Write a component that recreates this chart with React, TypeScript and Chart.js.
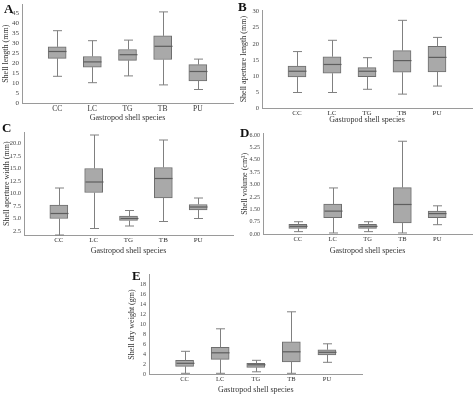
import React, { useEffect, useRef } from 'react';
import { Chart, registerables } from 'chart.js';
Chart.register(...registerables);

const categories = ['CC', 'LC', 'TG', 'TB', 'PU'];
const xTitle = 'Gastropod shell species';

// Panel A: Shell length (mm)
const aMin = [13.6, 10.4, 13.8, 9.3, 7.0];
const aQ1 = [22.6, 18.2, 21.6, 22.0, 11.3];
const aMed = [26.0, 20.8, 24.4, 28.6, 16.0];
const aQ3 = [28.3, 23.5, 27.0, 33.8, 19.4];
const aMax = [36.4, 31.4, 31.7, 45.8, 22.2];
const aTicks = [0, 5, 10, 15, 20, 25, 30, 35, 40, 45];

// Panel B: Shell aperture length (mm)
const bMin = [4.9, 4.9, 5.9, 4.4, 6.9];
const bQ1 = [9.7, 10.9, 9.8, 11.2, 11.3];
const bMed = [11.5, 13.6, 11.5, 14.8, 15.8];
const bQ3 = [13.1, 16.0, 12.6, 17.9, 19.2];
const bMax = [17.6, 21.1, 15.7, 27.3, 22.0];
const bTicks = [0, 5, 10, 15, 20, 25, 30];

// Panel C: Shell aperture width (mm)
const cMin = [1.7, 3.0, 3.5, 4.4, 5.0];
const cQ1 = [5.0, 10.2, 4.6, 9.1, 6.7];
const cMed = [6.0, 12.3, 5.0, 13.0, 7.3];
const cQ3 = [7.7, 15.0, 5.5, 15.2, 7.8];
const cMax = [11.1, 21.7, 6.6, 20.7, 9.1];
const cTicks = [2.5, 5, 7.5, 10, 12.5, 15, 17.5, 20];

// Panel D: Shell volume (cm3)
const dMin = [0.16, 0.08, 0.16, 0.08, 0.58];
const dQ1 = [0.36, 1.0, 0.36, 0.68, 1.0];
const dMed = [0.48, 1.4, 0.48, 1.8, 1.25];
const dQ3 = [0.6, 1.82, 0.6, 2.82, 1.4];
const dMax = [0.76, 2.8, 0.76, 5.62, 1.72];
const dTicks = [0, 0.75, 1.5, 2.25, 3, 3.75, 4.5, 5.25, 6];

// Panel E: Shell dry weight (gm)
const eMin = [0.2, 0.2, 0.5, 0.2, 2.4];
const eQ1 = [1.6, 3.0, 1.4, 2.5, 3.9];
const eMed = [2.2, 4.3, 1.9, 4.5, 4.4];
const eQ3 = [2.8, 5.4, 2.2, 6.5, 4.9];
const eMax = [4.6, 9.1, 2.8, 12.5, 6.1];
const eTicks = [0, 2, 4, 6, 8, 10, 12, 14, 16, 18];

const FONT = "'Liberation Serif', 'Times New Roman', serif";

type PanelDef = {
  letter: string;
  yTitle: string;
  mins: number[]; q1: number[]; med: number[]; q3: number[]; maxs: number[];
  ticks: number[]; yMin: number; yMax: number; decimals: number;
  pos: { left: number; top: number; width: number; height: number };
  area: { L: number; R: number; T: number; B: number };
  yTitleOffset: number; xTitleOffset: number; tickSize: number;
  letterPos: { left: number; top: number };
};

const panels: PanelDef[] = [
  {
    letter: 'A', yTitle: 'Shell length (mm)',
    mins: aMin, q1: aQ1, med: aMed, q3: aQ3, maxs: aMax,
    ticks: aTicks, yMin: 0, yMax: 49.75, decimals: 0,
    pos: { left: 0, top: 0, width: 237, height: 125 },
    area: { L: 22, R: 233, T: 4, B: 103.5 },
    yTitleOffset: 6, xTitleOffset: 7, tickSize: 7,
    letterPos: { left: 4, top: 2 },
  },
  {
    letter: 'B', yTitle: 'Shell aperture length (mm)',
    mins: bMin, q1: bQ1, med: bMed, q3: bQ3, maxs: bMax,
    ticks: bTicks, yMin: 0, yMax: 30.5, decimals: 0,
    pos: { left: 237, top: 0, width: 237, height: 125 },
    area: { L: 25, R: 235, T: 10, B: 108.3 },
    yTitleOffset: 6.5, xTitleOffset: 5.5, tickSize: 6.5,
    letterPos: { left: 238, top: 0 },
  },
  {
    letter: 'C', yTitle: 'Shell aperture width (mm)',
    mins: cMin, q1: cQ1, med: cMed, q3: cQ3, maxs: cMax,
    ticks: cTicks, yMin: 1.7, yMax: 22.2, decimals: 1,
    pos: { left: 0, top: 125, width: 237, height: 135 },
    area: { L: 24, R: 233, T: 7.5, B: 110 },
    yTitleOffset: 6.5, xTitleOffset: 9, tickSize: 6.5,
    letterPos: { left: 2, top: 121 },
  },
  {
    letter: 'D', yTitle: 'Shell volume (cm\u00B3)',
    mins: dMin, q1: dQ1, med: dMed, q3: dQ3, maxs: dMax,
    ticks: dTicks, yMin: 0, yMax: 6.1, decimals: 2,
    pos: { left: 237, top: 125, width: 237, height: 135 },
    area: { L: 26, R: 235, T: 8.3, B: 109.3 },
    yTitleOffset: 8, xTitleOffset: 9, tickSize: 6,
    letterPos: { left: 240, top: 126 },
  },
  {
    letter: 'E', yTitle: 'Shell dry weight (gm)',
    mins: eMin, q1: eQ1, med: eMed, q3: eQ3, maxs: eMax,
    ticks: eTicks, yMin: 0, yMax: 19.9, decimals: 0,
    pos: { left: 118, top: 260, width: 250, height: 137 },
    area: { L: 31, R: 244.5, T: 14.8, B: 114.3 },
    yTitleOffset: 13.5, xTitleOffset: 7, tickSize: 6,
    letterPos: { left: 132, top: 269 },
  },
];

function makeWhiskerPlugin(p: PanelDef) {
  return {
    id: 'whiskers' + p.letter,
    afterDatasetsDraw(chart: any) {
      const ctx = chart.ctx;
      const xs = chart.scales.x;
      const ys = chart.scales.y;
      ctx.save();
      for (let i = 0; i < categories.length; i++) {
        const px = Math.round(xs.getPixelForValue(i + 1)) + 0.5;
        const yMax = ys.getPixelForValue(p.maxs[i]);
        const yQ3 = ys.getPixelForValue(p.q3[i]);
        const yQ1 = ys.getPixelForValue(p.q1[i]);
        const yMinP = ys.getPixelForValue(p.mins[i]);
        const yMed = ys.getPixelForValue(p.med[i]);
        ctx.strokeStyle = '#808080';
        ctx.lineWidth = 1;
        ctx.beginPath();
        ctx.moveTo(px, yMax); ctx.lineTo(px, yQ3);
        ctx.moveTo(px, yQ1); ctx.lineTo(px, yMinP);
        ctx.moveTo(px - 4.5, yMax); ctx.lineTo(px + 4.5, yMax);
        ctx.moveTo(px - 4.5, yMinP); ctx.lineTo(px + 4.5, yMinP);
        ctx.stroke();
        ctx.strokeStyle = '#5e5e5e';
        ctx.lineWidth = 1.2;
        ctx.beginPath();
        ctx.moveTo(px - 9, yMed); ctx.lineTo(px + 9, yMed);
        ctx.stroke();
      }
      ctx.restore();
    },
  };
}

function PanelChart({ p }: { p: PanelDef }) {
  const ref = useRef<HTMLCanvasElement | null>(null);
  useEffect(() => {
    if (!ref.current) return;
    const labels = ['', ...categories, ''];
    const boxData: any[] = [null, ...categories.map((_, i) => [p.q1[i], p.q3[i]]), null];
    const chart = new Chart(ref.current, {
      type: 'bar',
      data: {
        labels,
        datasets: [
          {
            data: boxData,
            backgroundColor: '#a9a9a9',
            borderColor: '#6e6e6e',
            borderWidth: 1,
            borderSkipped: false,
            barThickness: 18,
          } as any,
        ],
      },
      options: {
        responsive: false,
        animation: false,
        devicePixelRatio: 1,
        layout: {
          padding: {
            left: 0,
            top: p.area.T,
            right: p.pos.width - p.area.R,
            bottom: 0,
          },
        },
        plugins: {
          legend: { display: false },
          tooltip: { enabled: false },
          title: { display: false },
        },
        scales: {
          x: {
            type: 'category',
            offset: false,
            grid: { display: false, drawTicks: false },
            border: { display: true, color: '#9a9a9a', width: 1 },
            ticks: {
              autoSkip: false,
              maxRotation: 0,
              padding: 1,
              color: '#333',
              font: { family: FONT, size: p.tickSize + 0.5 },
            },
            title: {
              display: true,
              text: xTitle,
              color: '#333',
              font: { family: FONT, size: 8 },
              padding: { top: 0, bottom: p.xTitleOffset - 4.8 },
            },
            afterFit: (s: any) => {
              s.height = p.pos.height - p.area.B;
              s.paddingLeft = 0;
              s.paddingRight = 0;
            },
          } as any,
          y: {
            type: 'linear',
            min: p.yMin,
            max: p.yMax,
            grid: { display: false, drawTicks: false },
            border: { display: true, color: '#9a9a9a', width: 1 },
            afterBuildTicks: (s: any) => {
              s.ticks = p.ticks.map((v) => ({ value: v }));
            },
            ticks: {
              autoSkip: false,
              padding: 3,
              color: '#444',
              font: { family: FONT, size: p.tickSize },
              callback: (v: any) => Number(v).toFixed(p.decimals),
            },
            title: {
              display: true,
              text: p.yTitle,
              color: '#333',
              font: { family: FONT, size: 8 },
              padding: { top: p.yTitleOffset - 4.8, bottom: 0 },
            },
            afterFit: (s: any) => {
              s.width = p.area.L;
              s.paddingTop = 0;
              s.paddingBottom = 0;
            },
          } as any,
        },
      },
      plugins: [makeWhiskerPlugin(p)],
    });
    return () => chart.destroy();
  }, [p]);
  return (
    <canvas
      ref={ref}
      width={p.pos.width}
      height={p.pos.height}
      style={{
        position: 'absolute',
        left: p.pos.left,
        top: p.pos.top,
        width: p.pos.width,
        height: p.pos.height,
      }}
    />
  );
}

export default function App() {
  return (
    <div
      style={{
        position: 'absolute',
        left: 0,
        top: 0,
        width: 474,
        height: 397,
        background: '#fff',
        overflow: 'hidden',
      }}
    >
      {panels.map((p) => (
        <PanelChart key={p.letter} p={p} />
      ))}
      {panels.map((p) => (
        <div
          key={'l' + p.letter}
          style={{
            position: 'absolute',
            left: p.letterPos.left,
            top: p.letterPos.top,
            fontFamily: FONT,
            fontWeight: 'bold',
            fontSize: 13,
            color: '#111',
            lineHeight: '14px',
          }}
        >
          {p.letter}
        </div>
      ))}
    </div>
  );
}
